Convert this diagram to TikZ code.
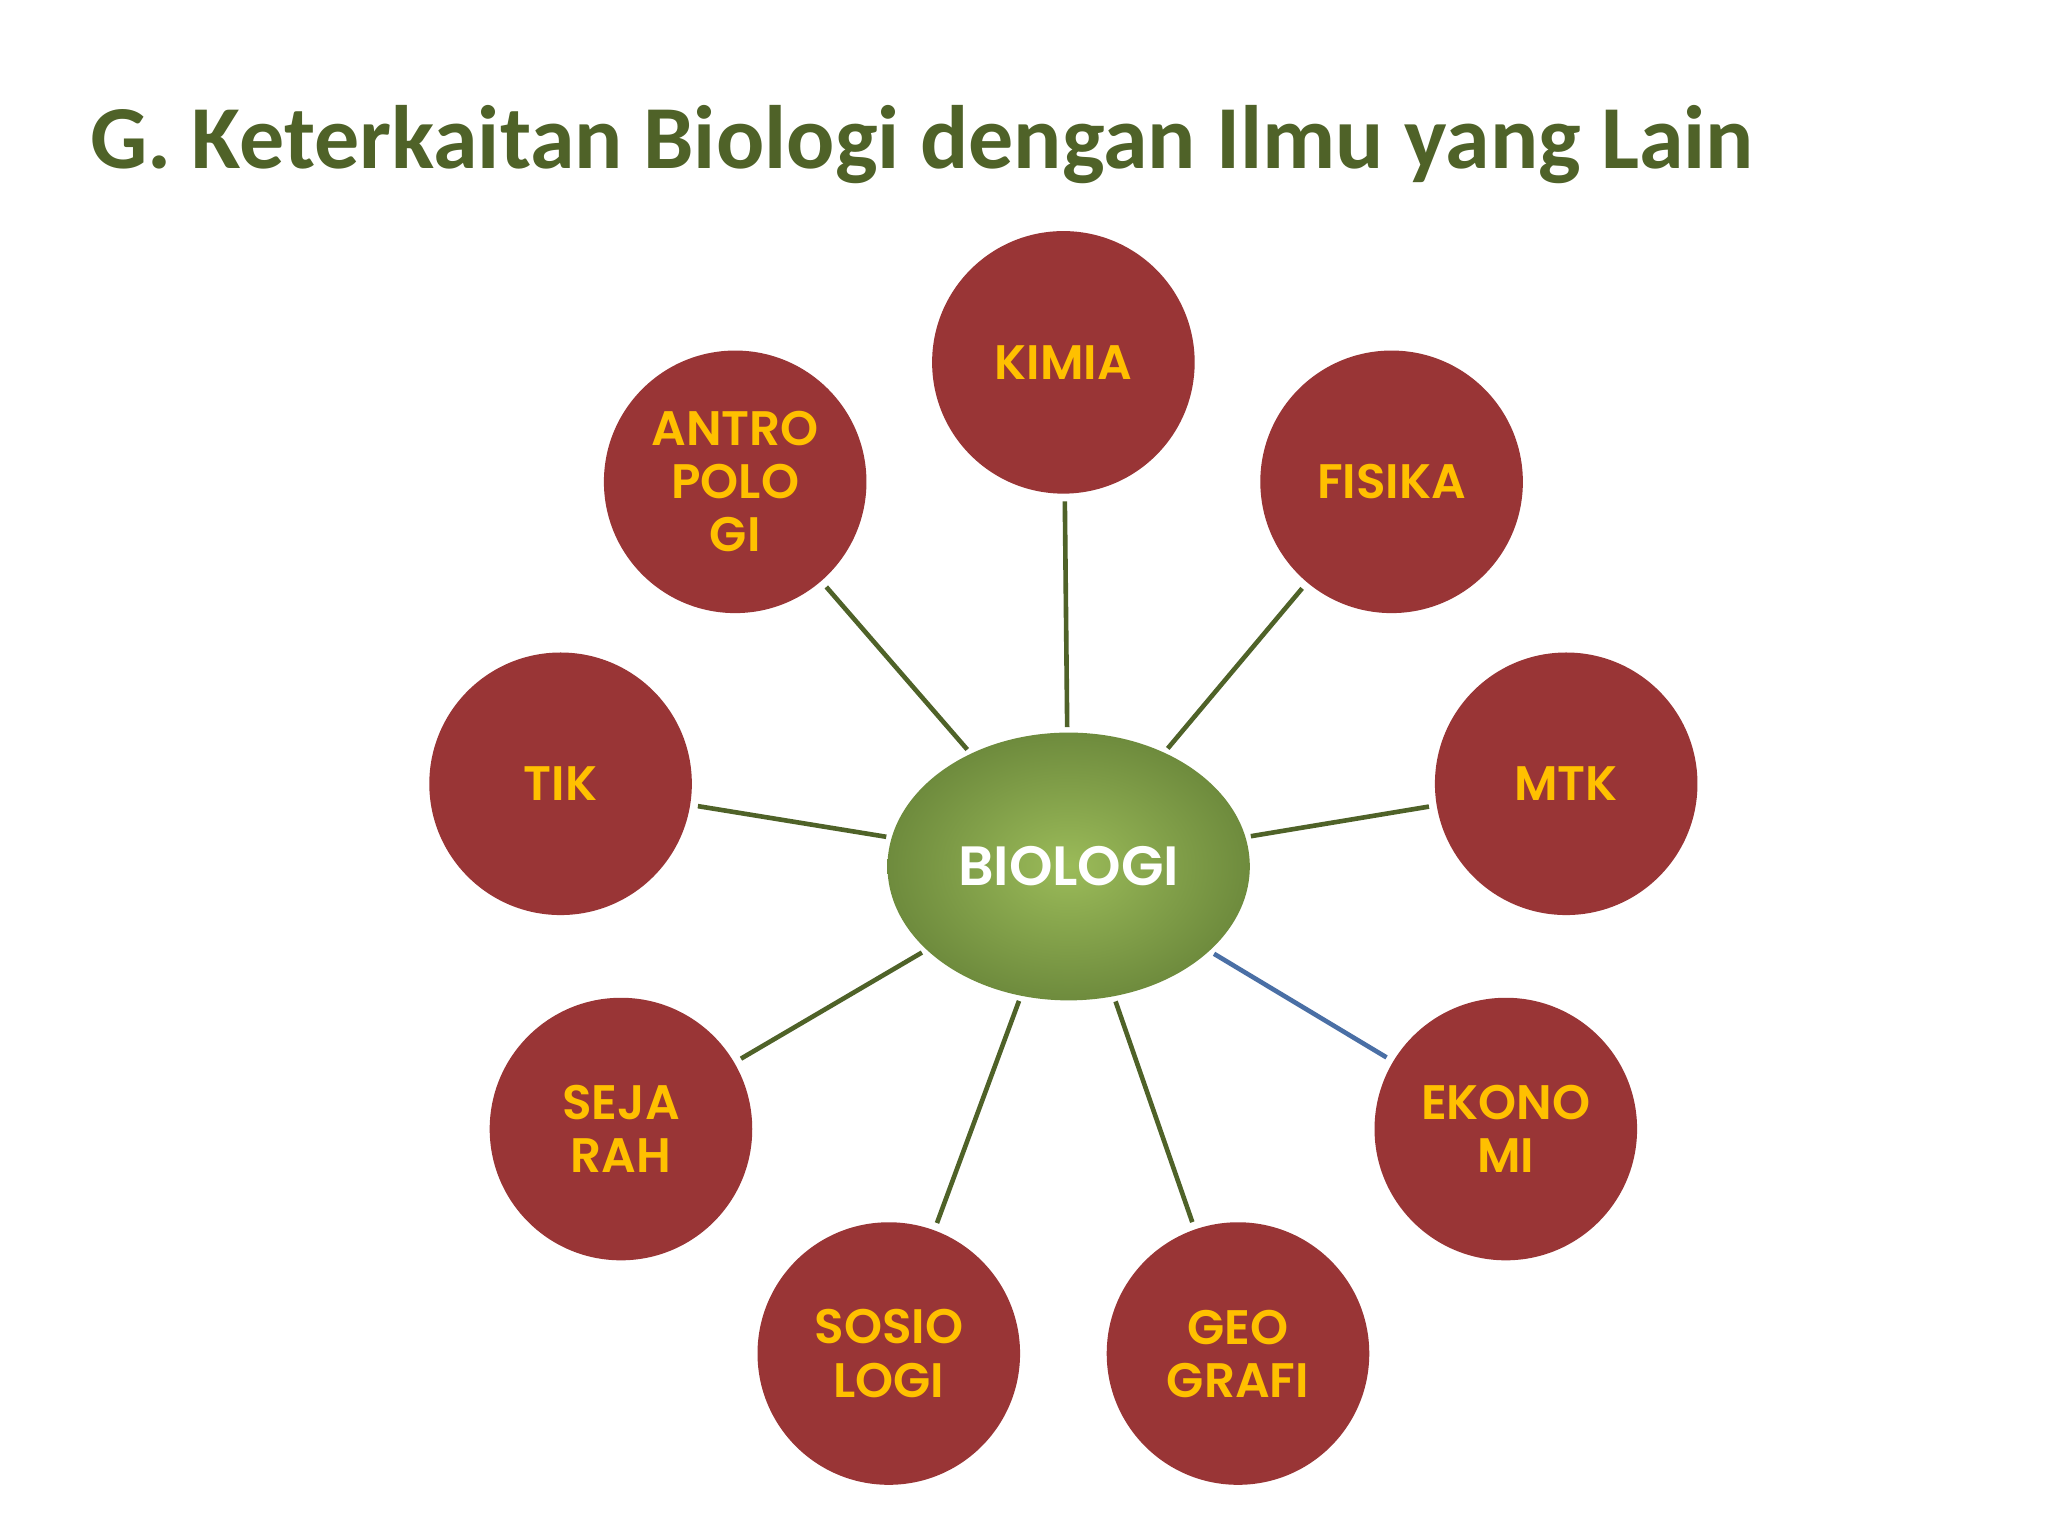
\documentclass[tikz,border=0pt]{standalone}
\usepackage{fontspec}
\setmainfont{Carlito}
\newfontfamily\lab{Poppins}[UprightFont=* Medium,BoldFont=* SemiBold]
\usetikzlibrary{shapes.geometric}
\begin{document}
\begin{tikzpicture}[x=0.1mm,y=-0.1mm,
  sub/.style={circle,minimum size=200*0.1mm,inner sep=0pt,font=\lab\bfseries\fontsize{10.5}{11.5}\selectfont,align=center}]
\definecolor{titlegreen}{HTML}{4F6228}
\definecolor{circ}{HTML}{993536}
\definecolor{lab}{HTML}{FFC000}
\definecolor{lk}{HTML}{4F6228}
\definecolor{lb}{HTML}{4A6FA5}
\definecolor{gin}{HTML}{9BBB59}
\definecolor{gout}{HTML}{6E8B3D}
\useasboundingbox (0,0) rectangle (1560,1170);
\fill[white] (0,0) rectangle (1560,1170);
\node[anchor=west,inner sep=0pt,text=titlegreen,font=\bfseries\fontsize{19.5}{22}\selectfont] (title) at (68,110) {G. Keterkaitan Biologi dengan Ilmu yang Lain};
\tikzset{sub/.append style={fill=circ,text=lab}}
\node[sub] (kimia) at (810,276) {KIMIA};
\node[sub] (antro) at (560,367) {ANTRO\\POLO\\GI};
\node[sub] (fisika) at (1060,367) {FISIKA};
\node[sub] (tik) at (427,597) {TIK};
\node[sub] (mtk) at (1193,597) {MTK};
\node[sub] (seja) at (473,860) {SEJA\\RAH};
\node[sub] (ekon) at (1147,860) {EKONO\\MI};
\node[sub] (sosio) at (677,1031) {SOSIO\\LOGI};
\node[sub] (geo) at (943,1031) {GEO\\GRAFI};
\node[ellipse,minimum width=276*0.1mm,minimum height=204*0.1mm,inner sep=0pt,
  inner color=gin,outer color=gout,text=white,
  font=\lab\bfseries\fontsize{12}{14}\selectfont] (bio) at (814,660) {BIOLOGI};
\tikzset{link/.style={draw=lk,line width=1pt,shorten <=1.5pt,shorten >=1pt}}
\foreach \n in {kimia,antro,fisika,tik,mtk,seja,sosio,geo}{\draw[link] (\n) -- (bio);}
\draw[link,draw=lb] (ekon) -- (bio);
\end{tikzpicture}
\end{document}
